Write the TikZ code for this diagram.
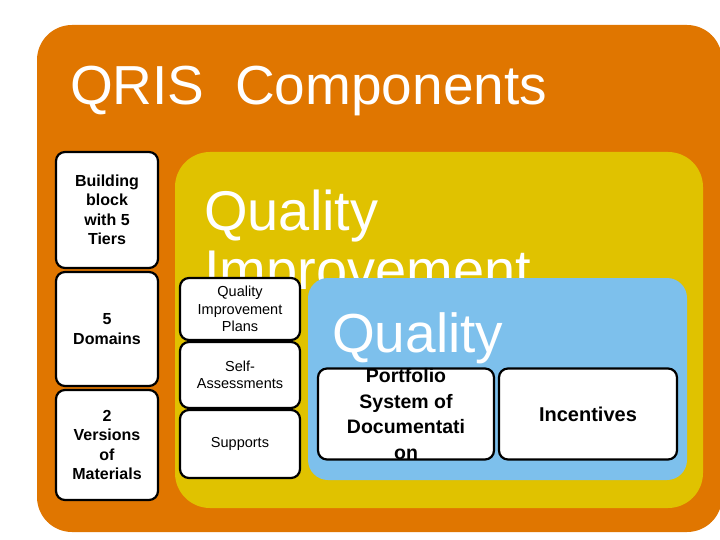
\documentclass[tikz,border=0pt]{standalone}
\usepackage{fontspec}
\setmainfont{Liberation Sans}
\begin{document}
\begin{tikzpicture}[x=1pt,y=-1pt,
  wbox/.style={draw=black,line width=2.2pt,fill=white,rounded corners=9pt,align=center,inner sep=0pt},
  big/.style={text=white,anchor=base west,inner sep=0pt,font=\fontsize{56}{60}\selectfont}]
\useasboundingbox (0,0) rectangle (720,540);
\fill[white] (0,0) rectangle (720,540);
\fill[fill={rgb,255:red,224;green,118;blue,0},rounded corners=35pt] (37,25) rectangle (722,532);
\node[big,font=\fontsize{55}{60}\selectfont] (title) at (70,105) {QRIS\ \ Components};
\fill[fill={rgb,255:red,224;green,194;blue,0},rounded corners=35pt] (175,152) rectangle (703,508);
\node[big] (qi1) at (204,230) {Quality};
\node[big] (qi2) at (204,289) {Improvement};
\fill[fill={rgb,255:red,125;green,192;blue,236},rounded corners=20pt] (308,278) rectangle (687,480);
\node[big,font=\fontsize{55}{60}\selectfont] (q2) at (332,352) {Quality};
\begin{scope}[font=\bfseries\fontsize{16}{19.5}\selectfont]
\node[wbox,minimum width=102pt,minimum height=116pt] (b1) at (107,210) {Building\\block\\with 5\\Tiers};
\node[wbox,minimum width=102pt,minimum height=114pt] (b2) at (107,329) {5\\Domains};
\node[wbox,minimum width=102pt,minimum height=110pt] (b3) at (107,445) {2\\Versions\\of\\Materials};
\end{scope}
\begin{scope}[font=\fontsize{14.5}{17.5}\selectfont]
\node[wbox,minimum width=120pt,minimum height=62pt] (m1) at (240,309) {Quality\\Improvement\\Plans};
\node[wbox,minimum width=120pt,minimum height=66pt] (m2) at (240,375) {Self-\\Assessments};
\node[wbox,minimum width=120pt,minimum height=68pt] (m3) at (240,444) {Supports};
\end{scope}
\node[wbox,minimum width=176pt,minimum height=91pt,font=\bfseries\fontsize{19.5}{25.5}\selectfont] (p) at (406,414) {Portfolio\\System of\\Documentati\\on};
\node[wbox,minimum width=178pt,minimum height=91pt,font=\bfseries\fontsize{20}{24}\selectfont] (inc) at (588,414) {Incentives};
\end{tikzpicture}
\end{document}
